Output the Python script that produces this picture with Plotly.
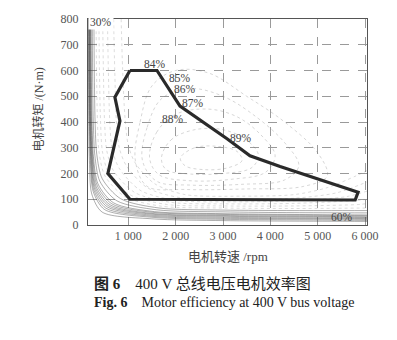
import plotly.graph_objects as go

# ---- data ----
# operating-region boundary (rpm, N·m)
bound_speed = [1035, 1606, 2092, 3085, 3570, 4205, 5852, 5790, 1035, 570, 824, 718, 1035]
bound_torque = [600, 600, 462, 335, 269, 227, 127, 97, 100, 200, 404, 496, 600]

# dense low-efficiency contour lines hugging the left edge and the bottom
dense_contours = [
    ([158, 160, 166, 180, 230, 450, 1500, 3000, 4500, 6050], [800, 600, 400, 250, 120, 50, 24, 17, 15, 14]),
    ([165, 170, 180, 200, 260, 500, 1500, 3000, 4500, 6050], [800, 600, 400, 250, 130, 60, 30, 22, 20, 18]),
    ([172, 177, 188, 210, 275, 530, 1500, 3000, 4500, 6050], [800, 600, 400, 252, 135, 65, 34, 26, 24, 22]),
    ([180, 185, 195, 220, 290, 560, 1500, 3000, 4500, 6050], [800, 600, 400, 255, 140, 70, 38, 30, 27, 25]),
    ([188, 192, 203, 230, 305, 590, 1500, 3000, 4500, 6050], [800, 600, 400, 258, 145, 74, 42, 34, 31, 29]),
    ([195, 200, 212, 240, 320, 620, 1500, 3000, 4500, 6050], [800, 600, 400, 260, 150, 78, 45, 37, 34, 32]),
    ([205, 210, 223, 252, 340, 655, 1520, 3000, 4500, 6050], [800, 600, 400, 262, 155, 82, 49, 41, 38, 36]),
    ([215, 220, 235, 265, 360, 690, 1550, 3000, 4500, 6050], [800, 600, 400, 265, 160, 86, 52, 44, 41, 39]),
    ([240, 247, 262, 295, 400, 760, 1600, 3000, 4500, 6050], [800, 600, 400, 270, 170, 94, 59, 51, 48, 47]),
    ([275, 283, 300, 335, 450, 840, 1650, 3000, 4500, 6050], [800, 600, 400, 275, 180, 102, 66, 58, 56, 56]),
]

# lighter low-efficiency contour lines further inside
light_contours = [
    ([320, 330, 350, 385, 510, 930, 1700, 3000, 4500, 6050], [800, 600, 400, 280, 190, 110, 73, 66, 64, 66]),
    ([380, 392, 415, 455, 590, 1030, 1800, 3000, 4500, 5900, 6050], [800, 600, 400, 285, 200, 118, 80, 74, 74, 80, 84]),
    ([460, 475, 500, 545, 690, 1140, 1900, 3100, 4500, 5800, 6050], [800, 600, 400, 290, 210, 126, 88, 82, 84, 95, 100]),
    ([560, 580, 610, 660, 810, 1260, 2000, 3200, 4500, 5600, 6050], [800, 600, 400, 295, 220, 134, 96, 90, 94, 110, 132]),
    ([690, 715, 750, 810, 960, 1400, 2100, 3300, 4500, 5400, 6050], [800, 600, 400, 300, 230, 145, 106, 100, 104, 125, 168]),
    ([850, 880, 930, 1000, 1150, 1560, 2200, 3400, 4500, 5200, 5800, 6050], [800, 610, 420, 310, 240, 160, 118, 112, 118, 145, 190, 212]),
]

# high-efficiency island contours (85 % ... 89 %)
island_contours = [
    ([1150, 1250, 1500, 2000, 2700, 3500, 4300, 5000, 5200, 4700, 3500, 2200, 1400, 1150],
     [250, 400, 540, 600, 590, 500, 400, 280, 190, 150, 140, 138, 150, 250]),
    ([1300, 1400, 1700, 2300, 3000, 3700, 4300, 4600, 4300, 3400, 2300, 1600, 1300],
     [250, 380, 490, 530, 500, 420, 320, 230, 175, 158, 155, 170, 250]),
    ([1450, 1600, 2000, 2700, 3300, 3800, 4100, 3900, 3200, 2300, 1650, 1450],
     [260, 360, 430, 450, 420, 350, 270, 205, 178, 172, 195, 260]),
    ([1700, 1900, 2400, 3000, 3500, 3750, 3600, 3000, 2300, 1800, 1700],
     [260, 330, 370, 370, 330, 270, 222, 200, 198, 215, 260]),
    ([2100, 2400, 2900, 3300, 3400, 3100, 2600, 2200, 2100],
     [260, 300, 305, 285, 250, 222, 215, 230, 260]),
]

label_text = ["30%", "84%", "85%", "86%", "87%", "88%", "89%", "60%"]
label_speed = [430, 1560, 2090, 2200, 2370, 1950, 3370, 5510]
label_torque = [790, 627, 570, 527, 474, 411, 338, 30]

x_ticks = [1000, 2000, 3000, 4000, 5000, 6000]
x_ticktext = ["1 000", "2 000", "3 000", "4 000", "5 000", "6 000"]
y_ticks = [0, 100, 200, 300, 400, 500, 600, 700, 800]

SERIF = "Liberation Serif, Noto Sans CJK SC, serif"

fig = go.Figure()

for xs, ys in dense_contours:
    fig.add_trace(go.Scatter(x=xs, y=ys, mode="lines",
                             line=dict(color="rgba(60,60,60,0.6)", width=0.7, shape="spline", smoothing=0.8),
                             hoverinfo="skip", showlegend=False))
for xs, ys in light_contours:
    fig.add_trace(go.Scatter(x=xs, y=ys, mode="lines",
                             line=dict(color="rgba(110,110,110,0.35)", width=0.7, dash="dot", shape="spline", smoothing=0.8),
                             hoverinfo="skip", showlegend=False))
for xs, ys in island_contours:
    fig.add_trace(go.Scatter(x=xs, y=ys, mode="lines",
                             line=dict(color="rgba(110,110,110,0.4)", width=0.7, dash="dot", shape="spline", smoothing=1.0),
                             hoverinfo="skip", showlegend=False))

fig.add_trace(go.Scatter(x=bound_speed, y=bound_torque, mode="lines",
                         line=dict(color="#2a2a2a", width=3.2), hoverinfo="skip", showlegend=False))

for t, xv, yv in zip(label_text, label_speed, label_torque):
    fig.add_annotation(x=xv, y=yv, text=t, showarrow=False,
                       font=dict(family=SERIF, size=11.5, color="#444"),
                       bgcolor="white" if t == "30%" else None)

fig.add_annotation(xref="paper", yref="paper", x=0.5, y=-0.154, xanchor="center", yanchor="middle",
                   text="电机转速 /rpm", showarrow=False,
                   font=dict(family=SERIF, size=13, color="#444"))
fig.add_annotation(xref="paper", yref="paper", x=-0.176, y=0.56, xanchor="center", yanchor="middle",
                   text="电机转矩 /(N·m)", showarrow=False, textangle=-90,
                   font=dict(family=SERIF, size=12, color="#444"))

fig.add_annotation(xref="paper", yref="paper", x=0.409, y=-0.284, xanchor="center", yanchor="middle",
                   text="<b>图 6</b>&#160;&#160;&#160;&#160;400 V 总线电压电机效率图", showarrow=False,
                   font=dict(family=SERIF, size=15, color="#222"))
fig.add_annotation(xref="paper", yref="paper", x=0.49, y=-0.375, xanchor="center", yanchor="middle",
                   text="<b>Fig. 6</b>&#160;&#160;&#160;&#160;Motor efficiency at 400 V bus voltage", showarrow=False,
                   font=dict(family=SERIF, size=14, color="#222"))

fig.update_xaxes(range=[150, 6040], tickvals=x_ticks, ticktext=x_ticktext,
                 showgrid=True, gridcolor="#9a9a9a", griddash="dash", gridwidth=1,
                 showline=True, linecolor="#555", linewidth=1, mirror=True,
                 ticks="", zeroline=False,
                 tickfont=dict(family=SERIF, size=12, color="#555"))
fig.update_yaxes(range=[0, 800], tickvals=y_ticks,
                 showgrid=True, gridcolor="#9a9a9a", griddash="dash", gridwidth=1,
                 showline=True, linecolor="#555", linewidth=1, mirror=True,
                 ticks="", zeroline=False, ticklabelstandoff=6,
                 tickfont=dict(family=SERIF, size=12, color="#555"))

fig.update_layout(width=397, height=340, margin=dict(l=88, r=30, t=17, b=115),
                  plot_bgcolor="white", paper_bgcolor="white")

fig.write_html("out.html")
